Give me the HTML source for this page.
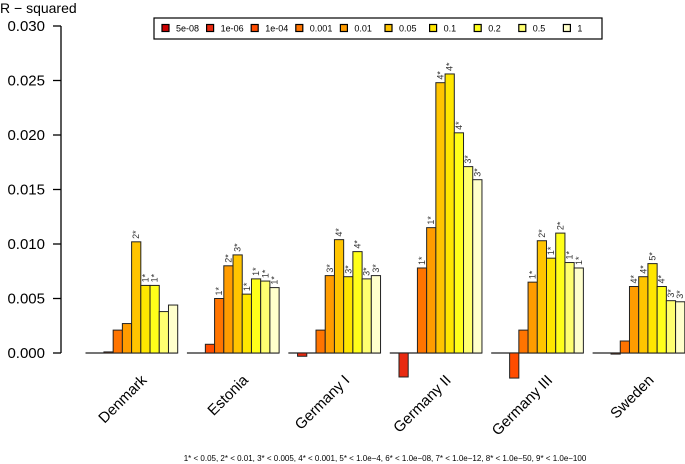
<!DOCTYPE html>
<html><head><meta charset="utf-8"><style>
html,body{margin:0;padding:0;background:#fff;}
svg{display:block;font-family:"Liberation Sans",sans-serif;}
</style></head><body>
<svg id="chart" width="685" height="464" viewBox="0 0 685 464">
<text x="0" y="13" font-size="14" fill="#000">R − squared</text>
<g id="yaxis"></g>
<g id="bars"></g>
<g id="xlabels"></g>
<g id="legend"></g>
<text x="385" y="461" font-size="8" text-anchor="middle" fill="#000">1* &lt; 0.05, 2* &lt; 0.01, 3* &lt; 0.005, 4* &lt; 0.001, 5* &lt; 1.0e−4, 6* &lt; 1.0e−08,  7* &lt; 1.0e−12, 8* &lt; 1.0e−50, 9* &lt; 1.0e−100</text>
</svg>
<script>
const categories = ["Denmark","Estonia","Germany I","Germany II","Germany III","Sweden"];
const thresholds = ["5e-08","1e-06","1e-04","0.001","0.01","0.05","0.1","0.2","0.5","1"];
const denmark = [0,0,0.0001,0.0021,0.0027,0.0102,0.0062,0.0062,0.0038,0.0044];
const estonia = [0,0,0.0008,0.0050,0.0080,0.0090,0.0054,0.0068,0.0066,0.0060];
const germany1 = [0,-0.0003,0,0.0021,0.0071,0.0104,0.0070,0.0093,0.0068,0.0071];
const germany2 = [0,-0.0022,0,0.0078,0.0115,0.0248,0.0256,0.0202,0.0171,0.0159];
const germany3 = [0,0,-0.0023,0.0021,0.0065,0.0103,0.0087,0.0110,0.0083,0.0078];
const sweden = [0,0,-0.0001,0.0011,0.0061,0.0070,0.0082,0.0061,0.0048,0.0047];
const starsDenmark = ["","","","","","2*","1*","1*","",""];
const starsEstonia = ["","","","1*","2*","3*","1*","1*","1*","1*"];
const starsGermany1 = ["","","","","3*","4*","3*","4*","3*","3*"];
const starsGermany2 = ["","","","1*","1*","4*","4*","4*","3*","3*"];
const starsGermany3 = ["","","","","1*","2*","1*","2*","1*","1*"];
const starsSweden = ["","","","","4*","4*","5*","4*","3*","3*"];
const yTicks = [0,0.005,0.010,0.015,0.020,0.025,0.030];
const yTickLabels = ["0.000","0.005","0.010","0.015","0.020","0.025","0.030"];

const series=[denmark,estonia,germany1,germany2,germany3,sweden];
const stars=[starsDenmark,starsEstonia,starsGermany1,starsGermany2,starsGermany3,starsSweden];
const colors=["#cc0000","#e82a10","#ff4c00","#ff7400","#ff9c00","#ffc400","#ffe600","#ffff1a","#ffff70","#ffffcc"];
const NS="http://www.w3.org/2000/svg";
function mk(tag,attrs,parent){const e=document.createElementNS(NS,tag);for(const k in attrs)e.setAttribute(k,attrs[k]);parent.appendChild(e);return e;}
const y0=353, pxPer=10900;
function yScale(v){return y0-v*pxPer;}
const unit=9.22, x0=85.5;
function xScale(g,i){return x0+(g*11+i)*unit;}

const ya=document.getElementById('yaxis');
const axl=mk('line',{x1:61,x2:61,y1:yScale(0),y2:yScale(0.030),stroke:'#000','stroke-width':1.3},ya);


yTicks.forEach((t,k)=>{
  const tk=mk('line',{x1:53,x2:61,y1:yScale(t),y2:yScale(t),stroke:'#000','stroke-width':1.3},ya);
  
  
  const tl=mk('text',{x:45,y:yScale(t)+5,'font-size':15,'text-anchor':'end'},ya);
  tl.textContent=yTickLabels[k];
  
  
});

const bg=document.getElementById('bars');
const xl=document.getElementById('xlabels');
series.forEach((vals,g)=>{
  const base=mk('line',{x1:xScale(g,0),x2:xScale(g,10),y1:y0,y2:y0,stroke:'#222','stroke-width':1.3},bg);
  
  
  vals.forEach((v,i)=>{
    if(v!==0){
      const top=Math.min(yScale(v),y0), h=Math.abs(yScale(v)-y0);
      const r=mk('rect',{x:xScale(g,i),y:top,width:unit,height:h,fill:colors[i],stroke:'#222','stroke-width':1},bg);
      
      
    }
    const s=stars[g][i];
    if(s){
      const cx=xScale(g,i)+unit/2+3, cy=yScale(v)-3;
      const t=mk('text',{x:cx,y:cy,'font-size':9,fill:'#333',transform:`rotate(-90 ${cx} ${cy})`},bg);
      t.textContent=s;
      
      
    }
  });
  const cx=xScale(g,5)+16, cy=381;
  const lab=mk('text',{x:cx,y:cy,'font-size':15,'text-anchor':'end',transform:`rotate(-45 ${cx} ${cy})`},xl);
  lab.textContent=categories[g];
  
  
});

const lg=document.getElementById('legend');
const box=mk('rect',{x:154,y:18,width:448,height:21,fill:'#fff',stroke:'#000','stroke-width':1.2},lg);


thresholds.forEach((t,i)=>{
  const sx=162+i*44.6;
  const sw=mk('rect',{x:sx,y:24.5,width:7,height:7,fill:colors[i],stroke:'#000','stroke-width':1.2},lg);
  
  
  const tx=mk('text',{x:sx+14,y:31.5,'font-size':9},lg);
  tx.textContent=t;
  
  
});
</script>
</body></html>
